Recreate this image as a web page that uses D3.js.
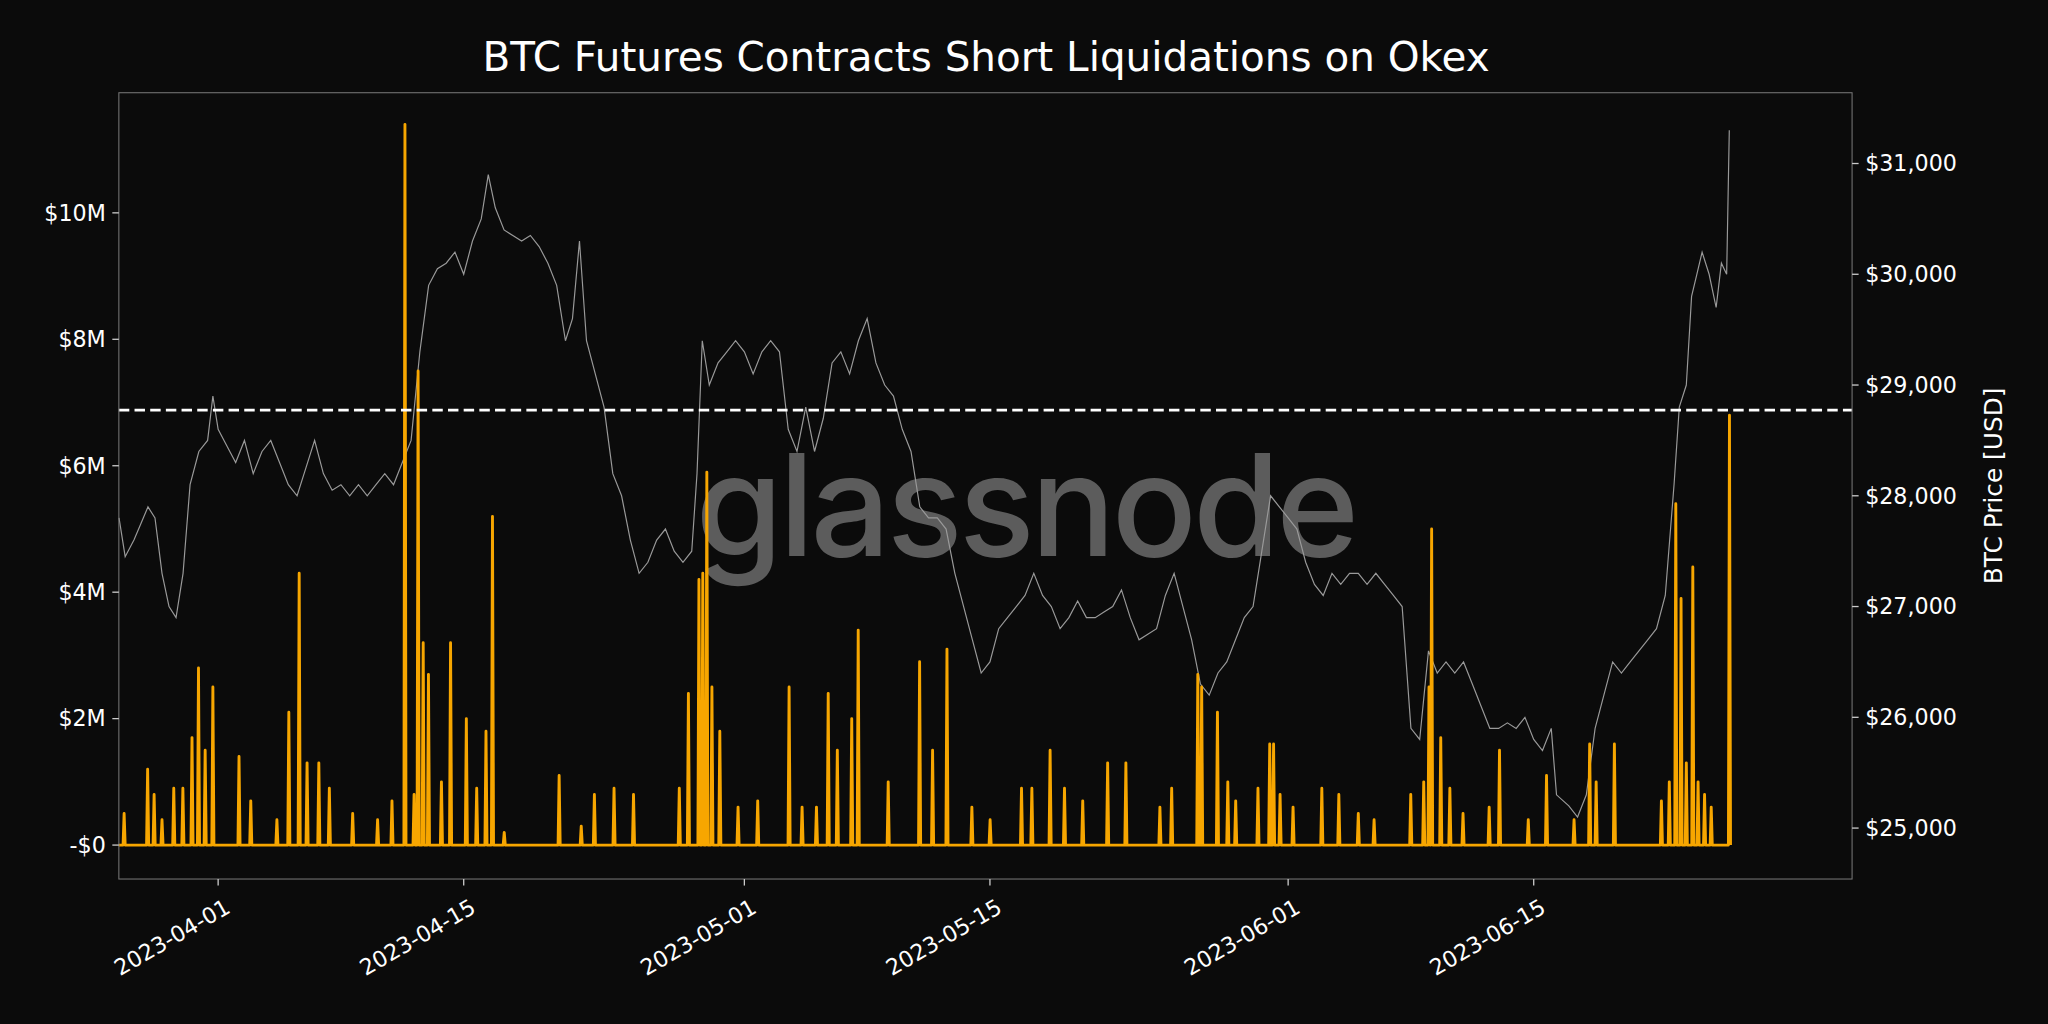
<!DOCTYPE html>
<html><head><meta charset="utf-8">
<script src="https://cdn.jsdelivr.net/npm/d3@7"></script>
<style>html,body{margin:0;padding:0;background:#0b0b0b;}svg{display:block;font-family:"DejaVu Sans",sans-serif;}</style>
</head><body><svg id="c" width="2048" height="1024"></svg>
<script>
// Day offsets are measured from 2023-03-26 00:00 UTC
const baseDate = "2023-03-26";
const priceDays = [0.35,0.7,1.2,1.6,2.0,2.4,2.8,3.2,3.6,4.0,4.4,4.9,5.4,5.7,6,6.5,7,7.5,8,8.5,9,9.5,10,10.5,11,11.5,12,12.5,13,13.5,14,14.5,15,15.5,16,16.5,17,17.5,18,18.5,19,19.5,20,20.5,21,21.4,21.8,22.3,22.8,23.3,23.8,24.3,24.8,25.3,25.8,26.2,26.6,27,27.5,28,28.5,29,29.5,30,30.5,31,31.5,32,32.5,33,33.3,33.6,34,34.5,35,35.5,36,36.5,37,37.5,38,38.5,39,39.5,40,40.5,41,41.5,42,42.5,43,43.5,44,44.5,45,45.5,46,46.5,47,47.5,48,48.5,49,49.5,50,50.5,51,51.5,52,52.5,53,53.5,54,54.5,55,55.5,56,56.5,57,57.5,58,58.5,59,59.5,60,60.5,61,61.5,62,62.5,63,63.5,64,64.5,65,65.5,66,66.5,67,67.5,68,68.5,69,69.5,70,70.5,71,71.5,72,72.5,73,73.5,74,74.5,75,75.5,76,76.5,77,77.5,78,78.5,79,79.5,80,80.5,81,81.5,82,82.3,83,83.5,84,84.5,85,85.5,86,86.5,87,87.5,88,88.5,89,89.3,89.7,90,90.3,90.6,91,91.4,91.7,92,92.15];
const priceValues = [27800,27450,27600,27750,27900,27800,27300,27000,26900,27300,28100,28400,28500,28900,28600,28450,28300,28500,28200,28400,28500,28300,28100,28000,28250,28500,28200,28050,28100,28000,28100,28000,28100,28200,28100,28300,28500,29300,29900,30050,30100,30200,30000,30300,30500,30900,30600,30400,30350,30300,30350,30250,30100,29900,29400,29600,30300,29400,29100,28800,28200,28000,27600,27300,27400,27600,27700,27500,27400,27500,28200,29400,29000,29200,29300,29400,29300,29100,29300,29400,29300,28600,28400,28800,28400,28700,29200,29300,29100,29400,29600,29200,29000,28900,28600,28400,27900,27800,27800,27700,27300,27000,26700,26400,26500,26800,26900,27000,27100,27300,27100,27000,26800,26900,27050,26900,26900,26950,27000,27150,26900,26700,26750,26800,27100,27300,27000,26700,26300,26200,26400,26500,26700,26900,27000,27500,28000,27900,27800,27700,27400,27200,27100,27300,27200,27300,27300,27200,27300,27200,27100,27000,25900,25800,26600,26400,26500,26400,26500,26300,26100,25900,25900,25950,25900,26000,25800,25700,25900,25300,25200,25100,25300,25900,26200,26500,26400,26500,26600,26700,26800,27100,28100,28800,29000,29800,30000,30200,30000,29700,30100,30000,31300];
const liqDays = [0.64,1.98,2.35,2.8,3.47,3.99,4.51,4.88,5.26,5.7,7.19,7.86,9.35,10.03,10.62,11.07,11.74,12.34,13.67,15.09,15.91,16.65,17.17,17.4,17.69,17.99,18.73,19.25,20.15,20.74,21.27,21.64,22.31,25.44,26.7,27.45,28.57,29.68,32.29,32.81,33.41,33.63,33.86,34.15,34.6,35.64,36.76,38.55,39.29,40.11,40.78,41.3,42.12,42.49,44.2,45.99,46.73,47.55,48.97,50.01,51.8,52.39,53.43,54.25,55.29,56.71,57.75,59.69,60.36,61.85,62.07,62.97,63.56,64.01,65.28,65.95,66.17,66.54,67.28,68.92,69.89,71.0,71.9,73.99,74.73,75.03,75.18,75.7,76.22,76.97,78.46,79.05,80.69,81.73,83.3,84.19,84.56,85.6,88.28,88.73,89.1,89.4,89.7,90.07,90.37,90.74,91.12,92.16];
const liqValues = [0.5,1.2,0.8,0.4,0.9,0.9,1.7,2.8,1.5,2.5,1.4,0.7,0.4,2.1,4.3,1.3,1.3,0.9,0.5,0.4,0.7,11.4,0.8,7.5,3.2,2.7,1.0,3.2,2.0,0.9,1.8,5.2,0.2,1.1,0.3,0.8,0.9,0.8,0.9,2.4,4.2,4.3,5.9,2.5,1.8,0.6,0.7,2.5,0.6,0.6,2.4,1.5,2.0,3.4,1.0,2.9,1.5,3.1,0.6,0.4,0.9,0.9,1.5,0.9,0.7,1.3,1.3,0.6,0.9,2.7,2.5,2.1,1.0,0.7,0.9,1.6,1.6,0.8,0.6,0.9,0.8,0.5,0.4,0.8,1.0,2.5,5.0,1.7,0.9,0.5,0.6,1.5,0.4,1.1,0.4,1.6,1.0,1.6,0.7,1.0,5.4,3.9,1.3,4.4,1.0,0.8,0.6,6.8];
const thresholdM = 6.88;
const leftTicks = [0,2,4,6,8,10];
const leftTickLabels = ["-$0","$2M","$4M","$6M","$8M","$10M"];
const rightTicks = [25000,26000,27000,28000,29000,30000,31000];
const xTicks = ["2023-04-01","2023-04-15","2023-05-01","2023-05-15","2023-06-01","2023-06-15"];

const base = new Date(baseDate+"T00:00:00Z");
const toDate = d => new Date(base.getTime()+d*86400000);
const L=91,R=1418,T=71,B=673;
const svg=d3.select("#c");
svg.append("rect").attr("width",2048).attr("height",1024).attr("fill","#0b0b0b");
const g=svg.append("g").attr("transform","scale(1.30612)");
const x=d3.scaleUtc().domain([toDate(0.34),toDate(99.15)]).range([L,R]);
const yL=d3.scaleLinear().domain([-0.537,11.9]).range([B,T]);
const yR=d3.scaleLinear().domain([24540,31639]).range([B,T]);

g.append("text").attr("x",785).attr("y",426).attr("text-anchor","middle").attr("fill","#5c5c5c").attr("font-size",108).attr("font-weight",500).attr("font-family","Inter,'Open Sans',sans-serif").attr("letter-spacing",-3).text("glassnode");

const price=priceDays.map((d,i)=>[toDate(d),priceValues[i]]);
g.append("path").datum(price).attr("fill","none").attr("stroke","#9a9a9a").attr("stroke-width",0.9)
 .attr("d",d3.line().x(d=>x(d[0])).y(d=>yR(d[1])));

const liq=[[toDate(0.34),0]];
liqDays.forEach((d,i)=>{liq.push([toDate(d-0.06),0],[toDate(d),liqValues[i]],[toDate(d+0.06),0]);});
g.append("path").datum(liq).attr("fill","none").attr("stroke","#f7a600").attr("stroke-width",2.2).attr("stroke-linejoin","round")
 .attr("d",d3.line().x(d=>x(d[0])).y(d=>yL(d[1])));

g.append("line").attr("x1",L).attr("x2",R).attr("y1",yL(thresholdM)).attr("y2",yL(thresholdM)).attr("stroke","#fff").attr("stroke-width",2).attr("stroke-dasharray","8,4");

g.append("rect").attr("x",L).attr("y",T).attr("width",R-L).attr("height",B-T).attr("fill","none").attr("stroke","#777").attr("stroke-width",0.8);

leftTicks.forEach((t,i)=>{const y=yL(t);
 g.append("line").attr("x1",L-5).attr("x2",L).attr("y1",y).attr("y2",y).attr("stroke","#ccc");
 g.append("text").attr("x",L-10).attr("y",y+6).attr("text-anchor","end").attr("fill","#fff").attr("font-size",17).text(leftTickLabels[i]);});
rightTicks.forEach(t=>{const y=yR(t);
 g.append("line").attr("x1",R).attr("x2",R+5).attr("y1",y).attr("y2",y).attr("stroke","#ccc");
 g.append("text").attr("x",R+10).attr("y",y+6).attr("fill","#fff").attr("font-size",17).text("$"+d3.format(",")(t));});
xTicks.forEach(s=>{const xx=x(new Date(s+"T00:00:00Z"));
 g.append("line").attr("x1",xx).attr("x2",xx).attr("y1",B).attr("y2",B+5).attr("stroke","#ccc");
 g.append("text").attr("transform",`translate(${xx+4},${B+14}) rotate(-30)`).attr("text-anchor","end").attr("dy","0.75em").attr("fill","#fff").attr("font-size",17).text(s);});
g.append("text").attr("transform",`translate(1533,372) rotate(-90)`).attr("text-anchor","middle").attr("fill","#fff").attr("font-size",19).text("BTC Price [USD]");
g.append("text").attr("x",755).attr("y",54).attr("text-anchor","middle").attr("fill","#fff").attr("font-size",31).text("BTC Futures Contracts Short Liquidations on Okex");
</script></body></html>
